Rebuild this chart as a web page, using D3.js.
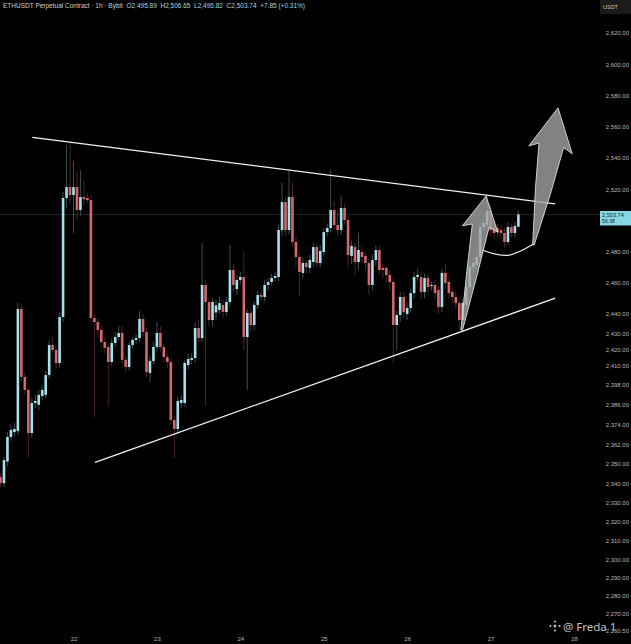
<!DOCTYPE html>
<html>
<head>
<meta charset="utf-8">
<script src="https://cdn.jsdelivr.net/npm/d3@7"></script>
<style>
  html, body { margin: 0; padding: 0; background: #000; }
  svg { display: block; font-family: "Liberation Sans", Arial, sans-serif; }
</style>
</head>
<body>
<div id="chart"></div>
<script>
var width = 631, height = 644;
var upColor = "#a8e0ea", downColor = "#d4676c";

// hourly candles, first one at 21 03:00
var startTime = Date.UTC(2024, 9, 21, 3);

var opens = [2343.2, 2340.0, 2351.5, 2366.4, 2369.4, 2370.1, 2443.2, 2403.1, 2395.0, 2368.8,
  2387.1, 2386.0, 2391.3, 2392.0, 2404.3, 2423.1, 2420.0, 2411.9, 2438.5, 2514.3,
  2521.3, 2516.2, 2521.3, 2506.6, 2514.9, 2514.3, 2513.0, 2438.0, 2436.0, 2432.0,
  2425.0, 2421.9, 2412.5, 2424.4, 2428.1, 2430.5, 2413.8, 2409.4, 2423.1, 2426.3,
  2427.5, 2437.5, 2431.0, 2405.6, 2413.1, 2421.9, 2430.5, 2421.9, 2415.6, 2412.5,
  2376.7, 2371.3, 2387.1, 2387.1, 2410.6, 2413.8, 2415.0, 2433.0, 2427.5, 2458.6,
  2447.7, 2437.0, 2441.0, 2442.6, 2445.8, 2441.3, 2447.7, 2468.2, 2456.0, 2461.8,
  2463.7, 2428.1, 2440.6, 2434.5, 2445.8, 2452.2, 2450.9, 2458.6, 2460.5, 2463.1,
  2463.7, 2493.8, 2511.7, 2493.8, 2514.9, 2486.1, 2476.5, 2466.3, 2472.7, 2469.5,
  2473.3, 2482.9, 2472.7, 2479.7, 2492.5, 2495.1, 2506.6, 2497.0, 2493.8, 2507.9,
  2500.2, 2477.2, 2483.0, 2473.3, 2479.7, 2477.2, 2472.7, 2458.6, 2474.6, 2481.0,
  2469.5, 2469.5, 2465.0, 2460.5, 2434.5, 2439.5, 2450.9, 2440.0, 2443.8, 2453.4,
  2463.7, 2463.7, 2454.1, 2463.1, 2457.9, 2458.6, 2455.4, 2444.5, 2466.3, 2460.5,
  2454.1, 2450.9, 2447.0, 2437.0, 2445.8, 2457.3, 2470.1, 2471.4, 2476.5, 2495.7,
  2497.0, 2506.0, 2496.0, 2495.1, 2493.8, 2491.9, 2486.1, 2495.7, 2491.9, 2495.89];

var highs = [2345, 2354, 2369, 2374, 2375, 2447, 2446, 2406, 2397, 2390,
  2392, 2395, 2398, 2407, 2426, 2428, 2422, 2441, 2518, 2548.3,
  2549.5, 2538, 2531, 2532, 2525, 2517, 2516, 2440, 2438, 2434,
  2428, 2424, 2427, 2431, 2434, 2434, 2416, 2425, 2428, 2430,
  2442, 2440, 2433, 2416, 2425, 2436, 2434, 2424, 2418, 2415,
  2379, 2391, 2392, 2414, 2418, 2418, 2436, 2437, 2485.5, 2462,
  2450, 2450, 2449, 2451, 2449, 2451, 2484.2, 2472, 2465, 2467,
  2480, 2443, 2443, 2448, 2455, 2455, 2462, 2463, 2466, 2467,
  2497, 2524, 2515, 2532.2, 2524, 2490, 2479, 2476, 2475, 2478,
  2486, 2485, 2484, 2495, 2498, 2532.2, 2512, 2506, 2516, 2511,
  2503, 2487, 2486, 2492, 2483, 2480, 2475, 2478, 2484, 2484,
  2472, 2471, 2468, 2463, 2442, 2454, 2454, 2447, 2456, 2467,
  2469, 2467, 2466, 2466, 2461, 2462, 2458, 2469, 2472, 2464,
  2457, 2454, 2450, 2450, 2460, 2473, 2476, 2480, 2499, 2501,
  2514.9, 2510, 2500, 2498, 2497, 2495, 2499, 2498, 2499, 2506.65];

var lows = [2338, 2338, 2349, 2364, 2367, 2368, 2400, 2392, 2354, 2366,
  2384, 2383, 2389, 2390, 2402, 2418, 2408, 2409, 2436, 2508,
  2510, 2492, 2500, 2503, 2510, 2511, 2436, 2378.6, 2428, 2422,
  2418, 2384.6, 2410, 2422, 2426, 2411, 2406, 2407, 2421, 2424,
  2425, 2428, 2403, 2400, 2411, 2419, 2419, 2412, 2409, 2374,
  2353.7, 2368, 2384, 2385, 2408, 2411, 2412, 2425, 2425, 2385,
  2434, 2434, 2437, 2440, 2438, 2439, 2445, 2455, 2452, 2459,
  2420, 2395, 2431, 2432, 2443, 2448, 2448, 2455, 2458, 2461,
  2461, 2490, 2490, 2491, 2483, 2470, 2451, 2463, 2466, 2466,
  2470, 2470, 2470, 2477, 2490, 2492, 2494, 2490, 2491, 2497,
  2470, 2472, 2465, 2468, 2473, 2468, 2452, 2455, 2471, 2465,
  2463, 2460, 2455, 2412, 2420, 2436, 2438, 2437, 2441, 2450,
  2461, 2450, 2450, 2454, 2455, 2450, 2440, 2441, 2456, 2450,
  2447, 2443, 2432, 2434, 2443, 2454, 2467, 2468, 2474, 2493,
  2494, 2490, 2488, 2489, 2488, 2483, 2484, 2489, 2489, 2495.82];

var closes = [2340.1, 2352.4, 2366.4, 2370.7, 2371.3, 2443.2, 2403.1, 2395.0, 2368.8, 2387.1,
  2388.3, 2392.0, 2395.0, 2404.3, 2423.1, 2420.0, 2411.9, 2438.5, 2514.3, 2521.3,
  2516.2, 2521.3, 2506.6, 2514.9, 2513.6, 2513.0, 2438.0, 2436.0, 2432.0, 2425.0,
  2421.3, 2412.5, 2424.4, 2428.1, 2430.5, 2413.8, 2409.4, 2423.1, 2426.3, 2427.5,
  2437.5, 2431.0, 2406.2, 2413.1, 2421.9, 2430.5, 2421.9, 2415.6, 2412.5, 2376.7,
  2371.3, 2388.3, 2388.9, 2411.9, 2414.4, 2415.0, 2433.0, 2427.5, 2458.6, 2447.7,
  2437.0, 2447.7, 2445.5, 2447.0, 2441.3, 2447.7, 2468.2, 2458.6, 2461.8, 2463.7,
  2428.1, 2440.6, 2434.5, 2445.8, 2452.2, 2450.9, 2458.6, 2460.5, 2463.1, 2464.3,
  2493.8, 2511.7, 2493.8, 2514.9, 2486.1, 2476.5, 2466.9, 2472.7, 2470.1, 2474.6,
  2482.9, 2472.7, 2480.4, 2492.5, 2495.1, 2506.6, 2497.0, 2493.8, 2507.9, 2500.2,
  2477.8, 2483.6, 2473.3, 2481.0, 2476.5, 2472.7, 2458.6, 2474.6, 2481.0, 2468.2,
  2468.2, 2465.0, 2460.5, 2434.5, 2439.5, 2450.9, 2441.3, 2443.8, 2453.4, 2463.7,
  2465.0, 2454.1, 2463.1, 2457.3, 2458.6, 2453.4, 2444.5, 2466.3, 2459.9, 2453.4,
  2450.9, 2447.0, 2437.0, 2447.0, 2457.3, 2470.1, 2472.7, 2476.5, 2495.7, 2498.3,
  2506.0, 2493.8, 2491.9, 2492.5, 2491.9, 2486.1, 2495.7, 2491.9, 2496.4, 2503.74];

var priceTicks = [2620, 2600, 2580, 2560, 2540, 2520, 2480, 2460, 2440, 2430, 2420, 2410,
  2398, 2386, 2374, 2362, 2350, 2340, 2330, 2320, 2310, 2300, 2290, 2280, 2270, 2260.5];

var lastPrice = 2503.74;
var countdown = "56:38";
var title = "ETHUSDT Perpetual Contract \u00b7 1h \u00b7 Bybit";
var ohlcLabels = ["O", "H", "L", "C"];
var ohlcValues = ["2,495.89", "2,506.65", "2,495.82", "2,503.74"];
var changeText = "+7.85 (+0.31%)";

// drawings: [time, price]
var upperTrend = [[Date.UTC(2024, 9, 21, 12, 9), 2553.2], [Date.UTC(2024, 9, 27, 18, 36), 2510.5]];
var lowerTrend = [[Date.UTC(2024, 9, 22, 6, 12), 2351.0], [Date.UTC(2024, 9, 27, 18, 36), 2450.2]];
var arrowSmall = [[Date.UTC(2024, 9, 26, 15, 42), 2432.0], [Date.UTC(2024, 9, 26, 22, 42), 2515.6]];
var arrowBig = [[Date.UTC(2024, 9, 27, 12, 20), 2484.2], [Date.UTC(2024, 9, 27, 19, 24), 2572.0]];
var cupCurve = [[Date.UTC(2024, 9, 26, 21, 30), 2481.0], [Date.UTC(2024, 9, 27, 5, 0), 2477.6], [Date.UTC(2024, 9, 27, 12, 20), 2484.8]];

var svg = d3.select("#chart").append("svg")
    .attr("width", width)
    .attr("height", height);

svg.append("rect").attr("width", width).attr("height", height).attr("fill", "#000");

svg.append("defs").append("clipPath").attr("id", "plotClip")
    .append("rect").attr("x", 0).attr("y", 0).attr("width", 600).attr("height", height);

var x = d3.scaleUtc()
    .domain([Date.UTC(2024, 9, 22), Date.UTC(2024, 9, 28)])
    .range([73.5, 574]);

// the price axis of the picture is not even, so the scale is piecewise
var y = d3.scaleLinear()
    .domain([2620, 2440, 2430, 2410, 2398, 2350, 2300, 2260.5])
    .range([33, 314, 334, 366, 385, 464, 560, 631]);

var candles = opens.map(function(o, i) {
    return { t: new Date(startTime + i * 3600000), o: o, h: highs[i], l: lows[i], c: closes[i] };
});

var plot = svg.append("g").attr("clip-path", "url(#plotClip)");

// last price line
plot.append("line")
    .attr("x1", 0).attr("x2", 600)
    .attr("y1", y(lastPrice)).attr("y2", y(lastPrice))
    .attr("stroke", "#5d7479")
    .attr("stroke-opacity", 0.45)
    .attr("stroke-width", 0.7);

plot.selectAll(".wick")
    .data(candles)
    .enter()
    .append("line")
    .attr("class", "wick")
    .attr("x1", function(d) { return x(d.t); })
    .attr("x2", function(d) { return x(d.t); })
    .attr("y1", function(d) { return y(d.h); })
    .attr("y2", function(d) { return y(d.l); })
    .attr("stroke", function(d) { return d.c >= d.o ? upColor : downColor; })
    .attr("stroke-opacity", 0.5)
    .attr("stroke-width", 0.7);

plot.selectAll(".body")
    .data(candles)
    .enter()
    .append("rect")
    .attr("class", "body")
    .attr("x", function(d) { return x(d.t) - 1.3; })
    .attr("width", 2.6)
    .attr("y", function(d) { return y(Math.max(d.o, d.c)); })
    .attr("height", function(d) { return Math.max(0.8, Math.abs(y(d.o) - y(d.c))); })
    .attr("fill", function(d) { return d.c >= d.o ? upColor : downColor; });

// trend lines
[upperTrend, lowerTrend].forEach(function(seg) {
    plot.append("line")
        .attr("x1", x(seg[0][0])).attr("y1", y(seg[0][1]))
        .attr("x2", x(seg[1][0])).attr("y2", y(seg[1][1]))
        .attr("stroke", "#f2f2f2")
        .attr("stroke-width", 1.3);
});

// curve under the second arrow
plot.append("path")
    .datum(cupCurve)
    .attr("d", d3.line()
        .x(function(d) { return x(d[0]); })
        .y(function(d) { return y(d[1]); })
        .curve(d3.curveNatural))
    .attr("fill", "none")
    .attr("stroke", "#eeeeee")
    .attr("stroke-width", 1.2);

// arrow shape from tail point to tip point
function arrowPath(seg, shaftW, headW, headLen) {
    var tx = x(seg[0][0]), ty = y(seg[0][1]);
    var hx = x(seg[1][0]), hy = y(seg[1][1]);
    var dx = hx - tx, dy = hy - ty, len = Math.sqrt(dx * dx + dy * dy);
    var ux = dx / len, uy = dy / len, nx = -uy, ny = ux;
    function p(s, w) { return [tx + ux * s + nx * w, ty + uy * s + ny * w]; }
    var sTop = len - headLen;
    var pts = [
        p(0, -0.8),
        p(sTop * 0.55, -shaftW * 0.32),
        p(sTop, -shaftW / 2),
        p(sTop - headLen * 0.12, -headW / 2),
        p(len, 0),
        p(sTop - headLen * 0.12, headW / 2),
        p(sTop, shaftW / 2),
        p(sTop * 0.55, shaftW * 0.32),
        p(0, 0.8)
    ];
    return "M" + pts.map(function(q) { return q[0].toFixed(1) + "," + q[1].toFixed(1); }).join("L") + "Z";
}

plot.append("path")
    .attr("d", arrowPath(arrowSmall, 17, 36, 30))
    .attr("fill", "#a3a3a3")
    .attr("fill-opacity", 0.8)
    .attr("stroke", "#dcdcdc")
    .attr("stroke-width", 0.9);

plot.append("path")
    .attr("d", arrowPath(arrowBig, 25, 44, 38))
    .attr("fill", "#a3a3a3")
    .attr("fill-opacity", 0.8)
    .attr("stroke", "#dcdcdc")
    .attr("stroke-width", 0.9);

// price axis
var yAxis = svg.append("g")
    .attr("transform", "translate(600,0)")
    .call(d3.axisRight(y).tickValues(priceTicks).tickSize(0).tickFormat(d3.format(",.2f")));
yAxis.select(".domain").remove();
yAxis.attr("font-family", "Liberation Sans, Arial, sans-serif").attr("font-size", 6);
yAxis.selectAll("text")
    .attr("x", 29)
    .attr("text-anchor", "end")
    .attr("fill", "#b8b8b8");

// time axis
var xAxis = svg.append("g")
    .attr("transform", "translate(0,634)")
    .call(d3.axisBottom(x).ticks(d3.utcDay.every(1)).tickSize(0).tickFormat(d3.utcFormat("%-d")));
xAxis.select(".domain").remove();
xAxis.attr("font-family", "Liberation Sans, Arial, sans-serif").attr("font-size", 6);
xAxis.selectAll("text").attr("fill", "#b8b8b8");

// unit box
svg.append("rect").attr("x", 600).attr("y", 0).attr("width", 31).attr("height", 14).attr("fill", "#1b1b1b");
svg.append("text").attr("x", 603).attr("y", 9)
    .attr("font-size", 5.5).attr("fill", "#c4c4c4").text("USDT");

// last price label
var py = y(lastPrice);
svg.append("rect").attr("x", 600).attr("y", py - 3.5).attr("width", 31).attr("height", 14.5).attr("fill", "#86d6e3");
svg.append("text").attr("x", 602).attr("y", py + 2.6)
    .attr("font-size", 5.6).attr("fill", "#0d2a2f").text(d3.format(",.2f")(lastPrice));
svg.append("text").attr("x", 602).attr("y", py + 8.6)
    .attr("font-size", 5.2).attr("fill", "#0d2a2f").text(countdown);

// header
var gap = "\u00a0\u00a0";
var head = svg.append("text").attr("x", 3).attr("y", 8)
    .attr("font-size", 6.5).attr("fill", "#cfcfcf");
head.append("tspan").text(title + gap);
ohlcLabels.forEach(function(l, i) {
    head.append("tspan").attr("fill", "#cfcfcf").text(l);
    head.append("tspan").attr("fill", "#9fd6e0").text(ohlcValues[i] + gap);
});
head.append("tspan").attr("fill", "#9fd6e0").text(changeText);

// watermark
var wm = svg.append("g").attr("fill", "#e6e6e6").attr("fill-opacity", 0.85);
var cx = 555, cy = 626;
[[0, 0, 2.4], [0, -4.6, 1.8], [0, 4.6, 1.8], [-4.6, 0, 1.8], [4.6, 0, 1.8]].forEach(function(s) {
    wm.append("rect")
        .attr("x", cx + s[0] - s[2] / 2).attr("y", cy + s[1] - s[2] / 2)
        .attr("width", s[2]).attr("height", s[2])
        .attr("transform", "rotate(45," + (cx + s[0]) + "," + (cy + s[1]) + ")");
});
wm.append("text").attr("x", 563).attr("y", 631)
    .attr("font-family", "Noto Sans, DejaVu Sans, sans-serif")
    .attr("font-size", 11.5).text("@ Freda 1");
</script>
</body>
</html>
